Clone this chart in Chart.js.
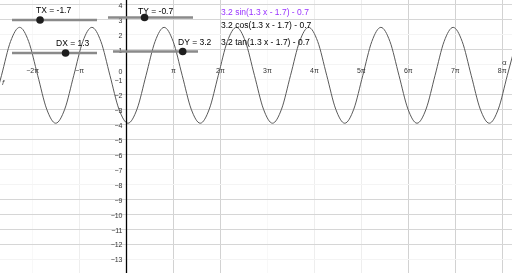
<!DOCTYPE html>
<html>
<head>
<meta charset="utf-8">
<script src="https://cdn.jsdelivr.net/npm/chart.js@4/dist/chart.umd.min.js"></script>
<style>
  html, body { margin: 0; padding: 0; background: #fff; }
  canvas { display: block; }
</style>
</head>
<body>
<canvas id="graph" width="512" height="273"></canvas>
<script>
const curveX = [
  -8.963, -8.359, -7.755, -7.150, -6.546, -5.942, -5.338, -4.734,
  -4.130, -3.525, -2.921, -2.317, -1.713, -1.109, -0.505, 0.099,
  0.703, 1.308, 1.912, 2.516, 3.120, 3.724, 4.328, 4.933,
  5.537, 6.141, 6.745, 7.349, 7.953, 8.557, 9.162, 9.766,
  10.370, 10.974, 11.578, 12.182, 12.787, 13.391, 13.995, 14.599,
  15.203, 15.807, 16.411, 17.016, 17.620, 18.224, 18.828, 19.432,
  20.036, 20.641, 21.245, 21.849, 22.453, 23.057, 23.661, 24.265,
  24.870, 25.474, 26.078
];
const curveY = [
  -2.96, -0.7, 1.56, 2.5, 1.56, -0.7, -2.96, -3.9,
  -2.96, -0.7, 1.56, 2.5, 1.56, -0.7, -2.96, -3.9,
  -2.96, -0.7, 1.56, 2.5, 1.56, -0.7, -2.96, -3.9,
  -2.96, -0.7, 1.56, 2.5, 1.56, -0.7, -2.96, -3.9,
  -2.96, -0.7, 1.56, 2.5, 1.56, -0.7, -2.96, -3.9,
  -2.96, -0.7, 1.56, 2.5, 1.56, -0.7, -2.96, -3.9,
  -2.96, -0.7, 1.56, 2.5, 1.56, -0.7, -2.96, -3.9,
  -2.96, -0.7, 1.56
];

// axis ticks
const xTickMultiples = [-2, -1, 1, 2, 3, 4, 5, 6, 7, 8];
const xTickLabels = ["−2π", "−π", "π", "2π", "3π", "4π", "5π", "6π", "7π", "8π"];
const yTickValues = [4, 3, 2, 1, 0, -1, -2, -3, -4, -5, -6, -7, -8, -9, -10, -11, -12, -13];
const yTickLabels = ["4", "3", "2", "1", "0", "−1", "−2", "−3", "−4", "−5", "−6", "−7", "−8", "−9", "−10", "−11", "−12", "−13"];

// grid lines that come out faint in the screenshot
const xGridFaint = [-1, 4, 5];
const xGridHidden = [-2, 3];
const yGridFaint = [2, 0, -1, -7, -8, -13];

// sliders (range -5 .. 5)
const sliderNames = ["TX", "TY", "DX", "DY"];
const sliderValues = [-1.7, -0.7, 1.3, 3.2];
const sliderMin = -5;
const sliderMax = 5;

const formulas = [
  "3.2 sin(1.3 x - 1.7) - 0.7",
  "3.2 cos(1.3 x - 1.7) - 0.7",
  "3.2 tan(1.3 x - 1.7) - 0.7",
];
const formulaColors = ["#9933ff", "#000000", "#000000"];

// where things sit on the page
const sliderLayout = [
  { x1: 12, x2: 97, y: 20, labelX: 36, labelY: 11 },
  { x1: 108, x2: 193, y: 17.5, labelX: 138, labelY: 11.5 },
  { x1: 12, x2: 97, y: 53, labelX: 56, labelY: 44 },
  { x1: 113, x2: 198, y: 51.5, labelX: 178, labelY: 43 },
];
const formulaLayout = [{ x: 221, y: 13 }, { x: 221, y: 25.5 }, { x: 221, y: 42.5 }];

const FONT = '"Liberation Sans", Arial, sans-serif';

const overlay = {
  id: "overlay",
  afterDatasetsDraw(chart) {
    const ctx = chart.ctx;
    const xs = chart.scales.x;
    const ys = chart.scales.y;
    const ox = Math.round(xs.getPixelForValue(0)) + 0.5;

    ctx.save();
    // y axis
    ctx.strokeStyle = "#000";
    ctx.lineWidth = 1.3;
    ctx.beginPath();
    ctx.moveTo(ox, 0);
    ctx.lineTo(ox, chart.height);
    ctx.stroke();

    // tick labels
    ctx.fillStyle = "#333";
    ctx.font = "7px " + FONT;
    ctx.textBaseline = "middle";
    ctx.textAlign = "right";
    yTickValues.forEach((v, i) => {
      let py = ys.getPixelForValue(v) + 1;
      if (v === 0) py += 6;
      ctx.fillText(yTickLabels[i], ox - 4, py);
    });
    ctx.textAlign = "center";
    const oy = ys.getPixelForValue(0);
    xTickMultiples.forEach((k, i) => {
      ctx.fillText(xTickLabels[i], xs.getPixelForValue(k * Math.PI), oy + 6.5);
    });

    // curve label and angle label
    ctx.font = "italic 8px " + FONT;
    ctx.textAlign = "left";
    ctx.fillStyle = "#444";
    ctx.fillText("f", 2, 83);
    ctx.font = "8px " + FONT;
    ctx.fillText("α", 502, 63);

    // sliders
    sliderNames.forEach((name, i) => {
      const s = sliderLayout[i];
      ctx.strokeStyle = "#8a8a8a";
      ctx.lineWidth = 2.6;
      ctx.beginPath();
      ctx.moveTo(s.x1, s.y);
      ctx.lineTo(s.x2, s.y);
      ctx.stroke();
      const dx = s.x1 + (sliderValues[i] - sliderMin) / (sliderMax - sliderMin) * (s.x2 - s.x1);
      ctx.fillStyle = "#1e1e1e";
      ctx.beginPath();
      ctx.arc(dx, s.y, 3.8, 0, Math.PI * 2);
      ctx.fill();
      ctx.fillStyle = "#000";
      ctx.font = "8.5px " + FONT;
      ctx.textAlign = "left";
      ctx.fillText(name + " = " + sliderValues[i], s.labelX, s.labelY);
    });

    // formula texts
    formulas.forEach((t, i) => {
      ctx.fillStyle = formulaColors[i];
      ctx.font = "8.5px " + FONT;
      ctx.fillText(t, formulaLayout[i].x, formulaLayout[i].y);
    });
    ctx.restore();
  },
};

const background = {
  id: "background",
  beforeDraw(chart) {
    chart.ctx.save();
    chart.ctx.fillStyle = "#fff";
    chart.ctx.fillRect(0, 0, chart.width, chart.height);
    chart.ctx.restore();
  },
};

new Chart(document.getElementById("graph").getContext("2d"), {
  type: "line",
  data: {
    datasets: [
      {
        data: curveX.map((x, i) => ({ x, y: curveY[i] })),
        borderColor: "#5a5a5a",
        borderWidth: 1,
        pointRadius: 0,
        cubicInterpolationMode: "monotone",
        fill: false,
      },
    ],
  },
  options: {
    responsive: false,
    animation: false,
    events: [],
    layout: { padding: 0 },
    plugins: { legend: { display: false }, tooltip: { enabled: false } },
    scales: {
      x: {
        type: "linear",
        min: -8.4615,
        max: 25.786,
        afterBuildTicks: (scale) => {
          const t = [];
          for (let k = -2; k <= 8; k++) if (k !== 0) t.push({ value: k * Math.PI });
          scale.ticks = t;
        },
        ticks: { display: false },
        border: { display: false },
        grid: {
          drawTicks: false,
          color: (c) => {
            const k = Math.round(c.tick.value / Math.PI);
            if (xGridHidden.includes(k)) return "#f8f8f8";
            if (xGridFaint.includes(k)) return "#eeeeee";
            return "#d2d2d2";
          },
        },
      },
      y: {
        type: "linear",
        min: -13.899,
        max: 4.326,
        afterBuildTicks: (scale) => {
          scale.ticks = yTickValues.map((v) => ({ value: v }));
        },
        ticks: { display: false },
        border: { display: false },
        grid: {
          drawTicks: false,
          color: (c) => (yGridFaint.includes(c.tick.value) ? "#f4f4f4" : "#d6d6d6"),
        },
      },
    },
  },
  plugins: [background, overlay],
});
</script>
</body>
</html>
